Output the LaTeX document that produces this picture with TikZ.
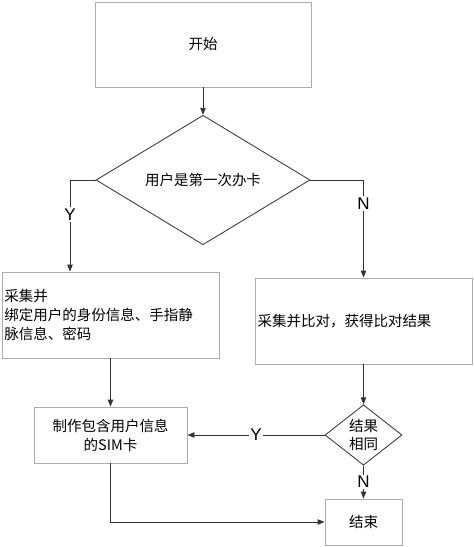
\documentclass[tikz,border=0pt]{standalone}
\usepackage{fontspec}
\newfontfamily\cjk{Noto Sans CJK SC}
\newfontfamily\latin{Liberation Sans}
\usetikzlibrary{positioning}
\usetikzlibrary{shapes.geometric}
\usetikzlibrary{arrows.meta}
\tikzset{box/.style={draw=gray!65, line width=0.9pt, inner sep=2pt, font=\cjk\fontsize{14.5}{19}\selectfont}}
\tikzset{choice/.style={diamond, draw=black!75, line width=0.9pt, inner sep=0pt, font=\cjk\fontsize{14.5}{18}\selectfont, align=center}}
\tikzset{arr/.style={draw=black!80, line width=0.9pt, -{Triangle[length=7pt,width=5.5pt]}}}
\tikzset{lbl/.style={fill=white, inner sep=1.5pt, font=\latin\fontsize{17}{17}\selectfont}}

\begin{document}
\begin{tikzpicture}[x=1pt,y=-1pt]
\useasboundingbox (0,0) rectangle (474,547);
\node[box, minimum width=216pt, minimum height=85pt] (start) at (203,44.5) {开始};
\node[choice, minimum width=214pt, minimum height=84pt] (first) at (203,180) {用户是第一次办卡};
\node[box, minimum width=217pt, minimum height=86pt, text width=212pt, align=left] (bind) at (110.5,315) {采集并\\绑定用户的身份信息、手指静\\脉信息、密码};
\node[box, minimum width=217pt, minimum height=86pt, text width=212pt, align=left] (compare) at (363.5,321) {采集并比对，获得比对结果};
\node[choice, minimum width=77pt, minimum height=56pt] (same) at (363.5,435) {结果\\相同};
\node[box, minimum width=153pt, minimum height=56pt, align=center] (card) at (110.5,435) {制作包含用户信息\\的SIM卡};
\node[box, minimum width=77pt, minimum height=46pt] (end) at (363.5,522) {结束};
\coordinate (ylane) at (70,0);
%\coordinate (nlane) at (363,0);
\draw[arr] (start) -- (first);
\draw[arr] (first.west) -| node[lbl, pos=0.69] {Y} (bind.north -| ylane);
\draw[arr] (first.east) -| node[lbl, pos=0.62] {N} (compare.north);
\draw[arr] (bind) -- (card);
\draw[arr] (compare) -- (same);
\draw[arr] (same.west) -- node[lbl] {Y} (card.east);
\draw[arr] (same.south) -- node[lbl] {N} (end.north);
\draw[arr] (card.south) |- (end.west);
\end{tikzpicture}
\end{document}
